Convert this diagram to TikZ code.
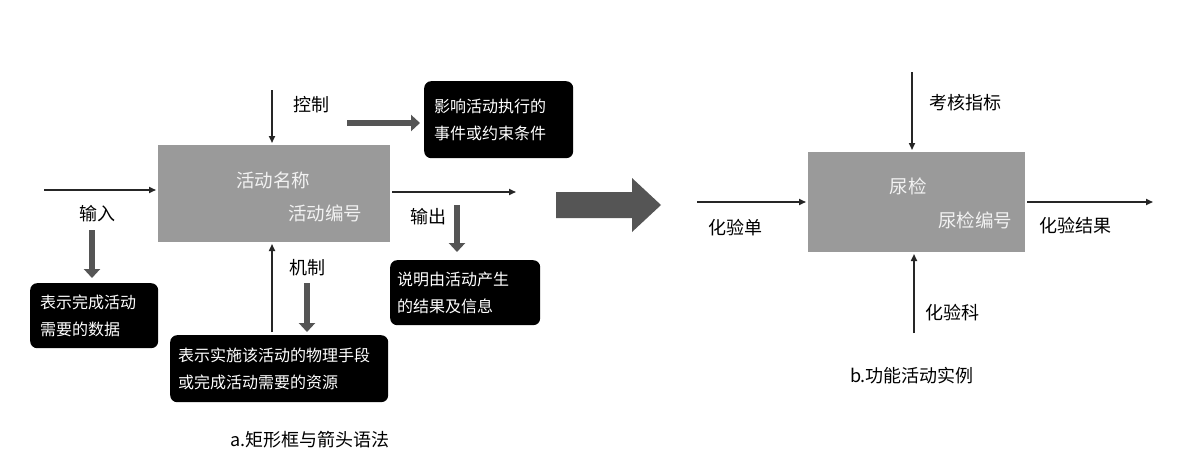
\documentclass[tikz,border=0pt]{standalone}
\usepackage{fontspec}
\setmainfont{Noto Sans CJK SC}
\usetikzlibrary{arrows.meta}
\definecolor{boxg}{HTML}{9A9A9A}
\definecolor{thk}{HTML}{555555}
\tikzset{
  thin/.style={draw=black!85,line width=1.6pt,-{Triangle[length=7pt,width=6pt]}},
  thick/.style={draw=thk,line width=6pt,-{Triangle[length=9pt,width=16pt]}},
  bbox/.style={draw=none,fill=black,rounded corners=7pt,text=white,font=\fontsize{16pt}{27pt}\selectfont,align=left,anchor=north west,inner sep=0pt},
  lab/.style={font=\fontsize{18pt}{20pt}\selectfont},
  gbox/.style={fill=boxg,draw=none,anchor=north west,inner sep=0pt},
  wt/.style={text=white!95!black,font=\fontsize{18.5pt}{20pt}\selectfont}
}
\begin{document}
\begin{tikzpicture}[x=1pt,y=-1pt]
\useasboundingbox[fill=white] (0,0) rectangle (1188,463);
% box 1
\node[gbox,minimum width=232pt,minimum height=97pt] (A) at (158,145) {};
\node[wt] (An) at (273,180) {活动名称};
\node[wt] (Ac) at (325,213) {活动编号};
% control
\coordinate (c0) at (272,90); \coordinate (c1) at (272,143);
\draw[thin] (c0) -- (c1);
\node[lab] (lc) at (311,105) {控制};
\coordinate (t1a) at (347,123); \coordinate (t1b) at (420,123);
\draw[thick] (t1a) -- (t1b);
\node[bbox,minimum width=149pt,minimum height=77pt,text width=129pt,inner xsep=10pt] (b1) at (424,81) {影响活动执行的\\事件或约束条件};
% input
\coordinate (i0) at (44,190); \coordinate (i1) at (156,190);
\draw[thin] (i0) -- (i1);
\node[lab] (li) at (97,214) {输入};
\coordinate (t2a) at (92,230); \coordinate (t2b) at (92,278);
\draw[thick] (t2a) -- (t2b);
\node[bbox,minimum width=128pt,minimum height=65pt,text width=108pt,inner xsep=10pt] (b2) at (30,283) {表示完成活动\\需要的数据};
% output
\coordinate (o0) at (392,192); \coordinate (o1) at (516,192);
\draw[thin] (o0) -- (o1);
\node[lab] (lo) at (428,217) {输出};
\coordinate (t3a) at (457,205); \coordinate (t3b) at (457,252);
\draw[thick] (t3a) -- (t3b);
\node[bbox,minimum width=150pt,minimum height=65pt,text width=136pt,inner xsep=7pt] (b3) at (390,260) {说明由活动产生\\的结果及信息};
% mechanism
\coordinate (m0) at (272,332); \coordinate (m1) at (272,244);
\draw[thin] (m0) -- (m1);
\node[lab] (lm) at (307,268) {机制};
\coordinate (t4a) at (307,283); \coordinate (t4b) at (307,332);
\draw[thick] (t4a) -- (t4b);
\node[bbox,minimum width=218pt,minimum height=67pt,text width=202pt,inner xsep=8pt] (b4) at (170,335) {表示实施该活动的物理手段\\或完成活动需要的资源};
\node[lab] (capa) at (310,440) {a.矩形框与箭头语法};
% big arrow
\fill[thk] (556,192) -- (632,192) -- (632,178) -- (661,205) -- (632,232) -- (632,218) -- (556,218) -- cycle;
% box 2
\node[gbox,minimum width=217pt,minimum height=100pt] (B) at (808,152) {};
\node[wt] (Bn) at (908,186) {尿检};
\node[wt] (Bc) at (975,220) {尿检编号};
\coordinate (k0) at (912,72); \coordinate (k1) at (912,150);
\draw[thin] (k0) -- (k1);
\node[lab] (lk) at (965,103) {考核指标};
\coordinate (h0) at (697,202); \coordinate (h1) at (806,202);
\draw[thin] (h0) -- (h1);
\node[lab] (lh) at (735,228) {化验单};
\coordinate (r0) at (1027,202); \coordinate (r1) at (1153,202);
\draw[thin] (r0) -- (r1);
\node[lab] (lr) at (1075,226) {化验结果};
\coordinate (s0) at (914,333); \coordinate (s1) at (914,254);
\draw[thin] (s0) -- (s1);
\node[lab] (ls) at (952,313) {化验科};
\node[lab] (capb) at (912,376) {b.功能活动实例};
\end{tikzpicture}
\end{document}
